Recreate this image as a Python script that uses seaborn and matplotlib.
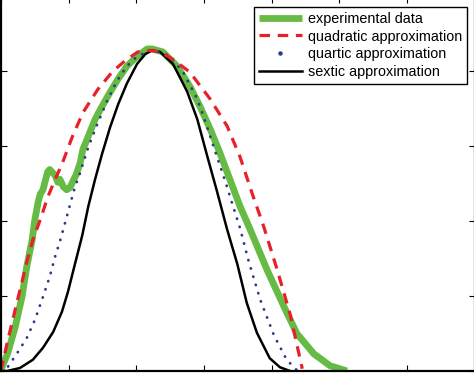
import matplotlib
matplotlib.use("Agg")
import matplotlib.pyplot as plt
from matplotlib.lines import Line2D
import seaborn as sns
import pandas as pd

# ---- data (x and y in tick units) ----
exp_x = [0.00, 0.01, 0.10, 0.21, 0.31, 0.38, 0.46, 0.50, 0.55, 0.58, 0.62, 0.66, 0.69, 0.72,
         0.75, 0.80, 0.84, 0.87, 0.92, 0.97, 1.02, 1.06, 1.11, 1.17, 1.21, 1.27, 1.39, 1.49,
         1.61, 1.73, 1.86, 2.01, 2.16, 2.23, 2.39, 2.60, 2.79, 2.94, 3.09, 3.23, 3.38, 3.53,
         3.68, 3.93, 4.18, 4.37, 4.62, 4.86, 5.11]
exp_y = [0.00, 0.04, 0.24, 0.59, 0.99, 1.39, 1.75, 2.02, 2.26, 2.36, 2.42, 2.56, 2.66, 2.69,
         2.66, 2.61, 2.52, 2.56, 2.46, 2.42, 2.45, 2.53, 2.62, 2.78, 2.96, 3.09, 3.36, 3.53,
         3.72, 3.90, 4.07, 4.20, 4.30, 4.30, 4.26, 4.07, 3.80, 3.53, 3.23, 2.92, 2.56, 2.20,
         1.89, 1.35, 0.86, 0.50, 0.23, 0.07, 0.00]

quad_x = [0.00, 0.01, 0.10, 0.21, 0.28, 0.38, 0.47, 0.58, 0.69, 0.80, 0.90, 1.05, 1.21, 1.43,
          1.65, 1.83, 2.02, 2.20, 2.35, 2.54, 2.79, 3.09, 3.34, 3.53, 3.71, 3.88, 4.08, 4.27, 4.45]
quad_y = [0.00, 0.05, 0.41, 0.82, 1.08, 1.45, 1.75, 2.02, 2.32, 2.56, 2.76, 3.12, 3.45, 3.76,
          4.00, 4.14, 4.26, 4.28, 4.26, 4.16, 3.99, 3.63, 3.27, 2.86, 2.37, 1.93, 1.35, 0.76, 0.03]

quart_x = [0.00, 0.09, 0.24, 0.38, 0.50, 0.62, 0.72, 0.80, 0.87, 0.95, 1.02, 1.09, 1.17, 1.29,
           1.42, 1.57, 1.71, 1.86, 2.01, 2.20, 2.38, 2.50, 2.69, 2.90, 3.04, 3.19, 3.31, 3.41,
           3.53, 3.66, 3.83, 4.03, 4.22, 4.37]
quart_y = [0.00, 0.04, 0.24, 0.44, 0.68, 0.99, 1.26, 1.53, 1.73, 1.99, 2.22, 2.45, 2.65, 2.99,
           3.29, 3.61, 3.87, 4.07, 4.20, 4.28, 4.26, 4.19, 3.99, 3.63, 3.27, 2.86, 2.54, 2.25,
           1.91, 1.46, 0.95, 0.48, 0.15, 0.01]

sext_x = [0.00, 0.09, 0.28, 0.47, 0.62, 0.77, 0.90, 0.99, 1.09, 1.20, 1.29, 1.39, 1.49, 1.61,
          1.73, 1.86, 2.01, 2.13, 2.23, 2.35, 2.54, 2.75, 2.90, 3.04, 3.19, 3.34, 3.49, 3.63,
          3.78, 3.97, 4.12, 4.27]
sext_y = [0.00, 0.00, 0.04, 0.15, 0.31, 0.52, 0.79, 1.06, 1.42, 1.81, 2.20, 2.56, 2.89, 3.25,
          3.56, 3.84, 4.10, 4.23, 4.28, 4.26, 4.10, 3.73, 3.36, 2.89, 2.40, 1.89, 1.43, 0.91,
          0.51, 0.17, 0.05, 0.00]

labels = ["experimental data", "quadratic approximation",
          "quartic approximation", "sextic approximation"]
x_ticks = [0, 1, 2, 3, 4, 5, 6, 7]
y_ticks = [0, 1, 2, 3, 4, 5]

GREEN = "#66bb44"
RED = "#e8202a"
NAVY = "#2b3a8a"
BLACK = "#000000"

plt.rcParams["font.family"] = ["Liberation Sans", "DejaVu Sans"]

W, H = 474, 374
fig = plt.figure(figsize=(W / 100, H / 100), dpi=100)
ax = fig.add_axes([1 / W, 3 / H, 473.9 / W, 374.5 / H])

df_exp = pd.DataFrame({"x": exp_x, "y": exp_y})
df_quad = pd.DataFrame({"x": quad_x, "y": quad_y})
df_quart = pd.DataFrame({"x": quart_x, "y": quart_y})
df_sext = pd.DataFrame({"x": sext_x, "y": sext_y})

sns.lineplot(data=df_exp, x="x", y="y", ax=ax, color=GREEN, lw=4.9,
             estimator=None, sort=False, solid_capstyle="butt", solid_joinstyle="round")
sns.lineplot(data=df_sext, x="x", y="y", ax=ax, color=BLACK, lw=1.8,
             estimator=None, sort=False)
sns.lineplot(data=df_quart, x="x", y="y", ax=ax, color=NAVY, lw=2.0,
             estimator=None, sort=False)
ax.lines[-1].set_dashes((0.1, 3.0))
ax.lines[-1].set_dash_capstyle("round")
sns.lineplot(data=df_quad, x="x", y="y", ax=ax, color=RED, lw=2.3,
             estimator=None, sort=False)
ax.lines[-1].set_dashes((3.3, 2.4))
ax.lines[-1].set_dash_capstyle("butt")

ax.set_xlim(x_ticks[0], x_ticks[-1])
ax.set_ylim(y_ticks[0], y_ticks[-1])
ax.set_xticks(x_ticks)
ax.set_yticks(y_ticks)
ax.tick_params(direction="in", length=4.5, width=0.8, top=True, right=True,
               labelbottom=False, labelleft=False, colors="black")
for s in ax.spines.values():
    s.set_linewidth(1.6)
    s.set_color("black")
ax.set_xlabel("")
ax.set_ylabel("")

handles = [
    Line2D([], [], color=GREEN, lw=4.9, solid_capstyle="butt"),
    Line2D([], [], color=RED, lw=2.3, dashes=(3.3, 2.4), dash_capstyle="butt"),
    Line2D([], [], color=NAVY, linestyle="none", marker="o", markersize=2.2),
    Line2D([], [], color=BLACK, lw=1.8),
]
leg = ax.legend(handles, labels, loc="upper right",
                bbox_to_anchor=(467 / W, (H - 7) / H), bbox_transform=fig.transFigure,
                borderaxespad=0, fontsize=10.4, frameon=True, fancybox=False,
                edgecolor="black", framealpha=1, handlelength=3.0, handletextpad=0.42,
                labelspacing=0.26, borderpad=0.33, numpoints=1)
leg.get_frame().set_linewidth(1.0)

fig.savefig("out.png", dpi=100)
